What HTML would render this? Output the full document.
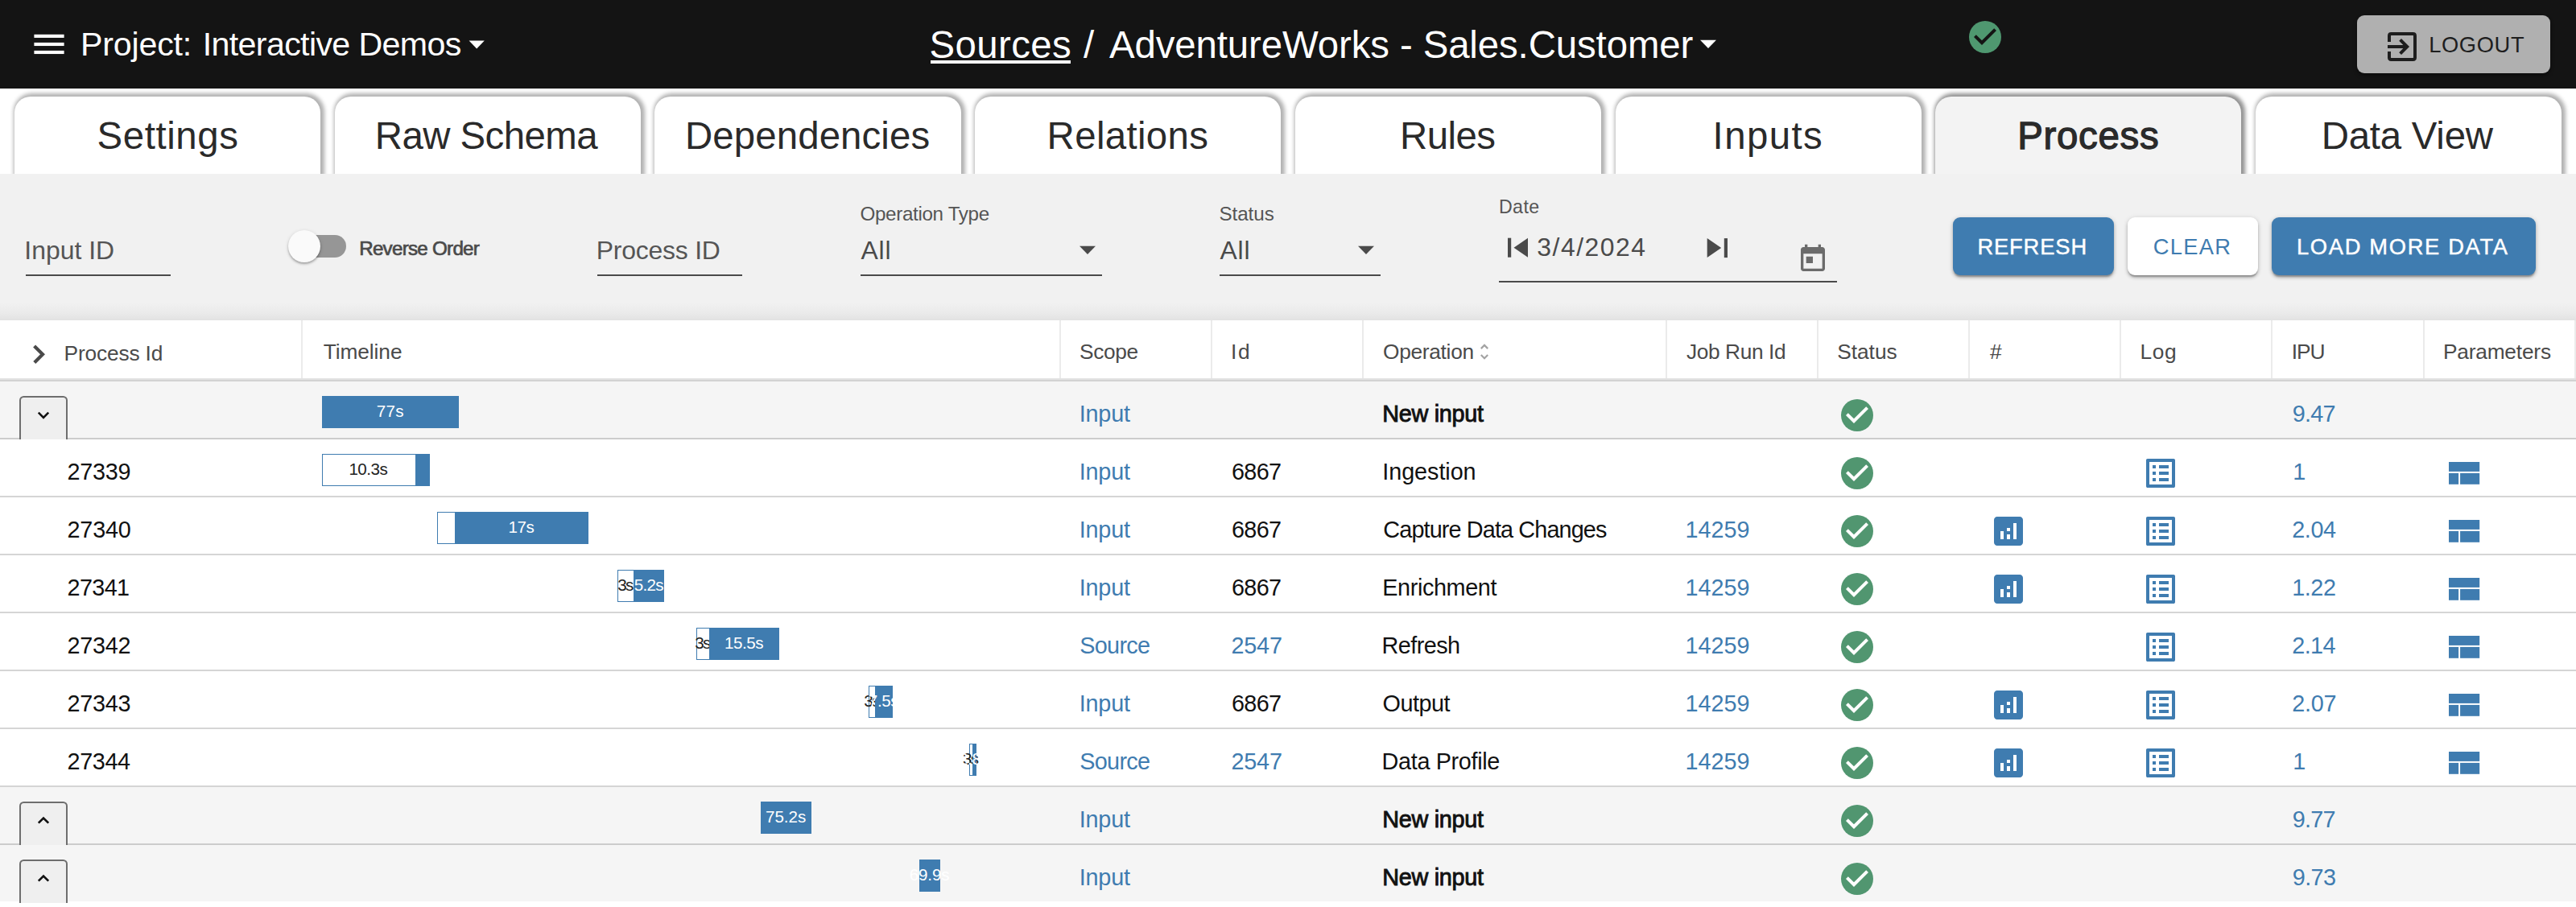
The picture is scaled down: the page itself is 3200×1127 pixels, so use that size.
<!DOCTYPE html><html lang="en"><head><meta charset="utf-8"><title>Process</title><style>html,body{margin:0;padding:0}body{width:3200px;height:1127px;position:relative;overflow:hidden;background:#fff;font-family:"Liberation Sans",sans-serif}.t{position:absolute;white-space:nowrap}</style></head><body>
<header>
<div style="position:absolute;left:0px;top:0px;width:3200px;height:110px;background:#141414;"></div>
<svg style="position:absolute;left:0;top:0" width="700" height="110"><g fill="#fff"><rect x="42.4" y="42.8" width="37.2" height="4.15"/><rect x="42.4" y="52.9" width="37.2" height="4.15"/><rect x="42.4" y="62.9" width="37.2" height="4.15"/><path d="M582.6 50.4h19.2l-9.6 10z"/></g></svg>
<div class="t" style="left:100.10px;top:35.10px;font-size:41.2px;line-height:41.2px;letter-spacing:-0.213px;color:#fff;">Project:</div>
<div class="t" style="left:251.70px;top:35.10px;font-size:41.2px;line-height:41.2px;letter-spacing:-0.645px;color:#fff;">Interactive Demos</div>
<div class="t" style="left:1154.60px;top:31.50px;font-size:47.4px;line-height:47.4px;letter-spacing:0.374px;color:#fff;">Sources</div>
<div style="position:absolute;left:1156px;top:75.3px;width:174px;height:3.6px;background:#fff;"></div>
<div class="t" style="left:1346.00px;top:31.50px;font-size:47.4px;line-height:47.4px;letter-spacing:0.000px;color:#fff;">/</div>
<div class="t" style="left:1378.00px;top:31.50px;font-size:47.4px;line-height:47.4px;letter-spacing:-0.113px;color:#fff;">AdventureWorks - Sales.Customer</div>
<svg style="position:absolute;left:2100px;top:30px" width="48" height="48" viewBox="0 0 48 48"><path d="M12 19.7h20l-10 10.3z" fill="#fff"/></svg>
<svg style="position:absolute;left:2442px;top:22px" width="48" height="48" viewBox="0 0 24 24"><circle cx="12" cy="12" r="10" fill="#4f9870"/><path d="M10 17l-5-5 1.41-1.41L10 14.17l7.59-7.59L19 8z" fill="#141414"/></svg>
<div style="position:absolute;left:2928px;top:19px;width:240px;height:72px;background:#b0b0b0;border-radius:9px;box-shadow:0 3px 5px rgba(0,0,0,.4)"></div>
<svg style="position:absolute;left:2960px;top:34px" width="48" height="48" viewBox="0 0 24 24" fill="none" stroke="#1e1e1e" stroke-width="2" stroke-linejoin="round"><path d="M4 9V5.2Q4 4 5.2 4H18.8Q20 4 20 5.2V18.8Q20 20 18.8 20H5.2Q4 20 4 18.8V15" stroke-linecap="butt"/><path d="M3 12H14.5" stroke-linecap="butt"/><path d="M10.8 7.7L15.1 12L10.8 16.3" stroke-linejoin="miter"/></svg>
<div class="t" style="left:3017.20px;top:41.80px;font-size:27.3px;line-height:27.3px;letter-spacing:0.622px;color:#1e1e1e;">LOGOUT</div>
</header>
<nav>
<div style="position:absolute;left:0;top:110px;width:3200px;height:106px;background:#fff;overflow:hidden"><div style="position:absolute;left:18.0px;top:10px;width:380.3px;height:140px;border-radius:20px 20px 0 0;background:#fff;box-shadow:1.85px -.5px 5.4px 2.65px rgba(0,0,0,.31)"></div><div style="position:absolute;left:415.7px;top:10px;width:380.3px;height:140px;border-radius:20px 20px 0 0;background:#fff;box-shadow:1.85px -.5px 5.4px 2.65px rgba(0,0,0,.31)"></div><div style="position:absolute;left:813.4px;top:10px;width:380.3px;height:140px;border-radius:20px 20px 0 0;background:#fff;box-shadow:1.85px -.5px 5.4px 2.65px rgba(0,0,0,.31)"></div><div style="position:absolute;left:1211.1px;top:10px;width:380.3px;height:140px;border-radius:20px 20px 0 0;background:#fff;box-shadow:1.85px -.5px 5.4px 2.65px rgba(0,0,0,.31)"></div><div style="position:absolute;left:1608.8px;top:10px;width:380.3px;height:140px;border-radius:20px 20px 0 0;background:#fff;box-shadow:1.85px -.5px 5.4px 2.65px rgba(0,0,0,.31)"></div><div style="position:absolute;left:2006.5px;top:10px;width:380.3px;height:140px;border-radius:20px 20px 0 0;background:#fff;box-shadow:1.85px -.5px 5.4px 2.65px rgba(0,0,0,.31)"></div><div style="position:absolute;left:2404.2px;top:10px;width:380.3px;height:140px;border-radius:20px 20px 0 0;background:#f3f3f3;box-shadow:1.85px -.5px 5.4px 2.65px rgba(0,0,0,.43)"></div><div style="position:absolute;left:2801.9px;top:10px;width:380.3px;height:140px;border-radius:20px 20px 0 0;background:#fff;box-shadow:1.85px -.5px 5.4px 2.65px rgba(0,0,0,.31)"></div></div>
<div class="t" style="left:120.50px;top:145.00px;font-size:47.4px;line-height:47.4px;letter-spacing:0.594px;color:#2a2a2a;">Settings</div>
<div class="t" style="left:465.80px;top:145.00px;font-size:47.4px;line-height:47.4px;letter-spacing:-0.552px;color:#2a2a2a;">Raw Schema</div>
<div class="t" style="left:851.05px;top:145.00px;font-size:47.4px;line-height:47.4px;letter-spacing:0.100px;color:#2a2a2a;">Dependencies</div>
<div class="t" style="left:1300.60px;top:145.00px;font-size:47.4px;line-height:47.4px;letter-spacing:0.353px;color:#2a2a2a;">Relations</div>
<div class="t" style="left:1739.00px;top:145.00px;font-size:47.4px;line-height:47.4px;letter-spacing:-0.541px;color:#2a2a2a;">Rules</div>
<div class="t" style="left:2127.60px;top:145.00px;font-size:47.4px;line-height:47.4px;letter-spacing:1.419px;color:#2a2a2a;">Inputs</div>
<div class="t" style="left:2506.15px;top:145.00px;font-size:47.4px;line-height:47.4px;letter-spacing:0.718px;color:#2a2a2a;-webkit-text-stroke:1.3px #2a2a2a;">Process</div>
<div class="t" style="left:2883.75px;top:145.00px;font-size:47.4px;line-height:47.4px;letter-spacing:-0.239px;color:#2a2a2a;">Data View</div>
</nav>
<section class="filters">
<div style="position:absolute;left:0;top:216px;width:3200px;height:182px;background:linear-gradient(#f1f1f1 0,#f1f1f1 88%,#ebebeb 94.5%,#e2e2e2 100%)"></div>
<div class="t" style="left:30.30px;top:296.30px;font-size:31.9px;line-height:31.9px;letter-spacing:0.007px;color:#555;">Input ID</div>
<div style="position:absolute;left:32px;top:341px;width:180px;height:2.4px;background:#4a4a4a;"></div>
<div style="position:absolute;left:362px;top:292px;width:68px;height:28px;background:#969696;border-radius:14px"></div>
<div style="position:absolute;left:358px;top:286px;width:40px;height:40px;background:#fafafa;border-radius:50%;box-shadow:0 2px 2.5px rgba(0,0,0,.26),0 1px 5px rgba(0,0,0,.12)"></div>
<div class="t" style="left:446.20px;top:296.90px;font-size:24.2px;line-height:24.2px;letter-spacing:-0.746px;color:#4a4a4a;-webkit-text-stroke:.7px #4a4a4a;">Reverse Order</div>
<div class="t" style="left:740.70px;top:296.30px;font-size:31.9px;line-height:31.9px;letter-spacing:-0.202px;color:#555;">Process ID</div>
<div style="position:absolute;left:742px;top:341px;width:180px;height:2.4px;background:#4a4a4a;"></div>
<div class="t" style="left:1068.40px;top:253.80px;font-size:24.2px;line-height:24.2px;letter-spacing:-0.317px;color:#555;">Operation Type</div>
<div class="t" style="left:1069.40px;top:296.30px;font-size:31.9px;line-height:31.9px;letter-spacing:0.872px;color:#4a4a4a;">All</div>
<div style="position:absolute;left:1069px;top:341px;width:300px;height:2.4px;background:#4a4a4a;"></div>
<div class="t" style="left:1514.40px;top:253.80px;font-size:24.2px;line-height:24.2px;letter-spacing:-0.035px;color:#555;">Status</div>
<div class="t" style="left:1515.40px;top:296.30px;font-size:31.9px;line-height:31.9px;letter-spacing:0.872px;color:#4a4a4a;">All</div>
<div style="position:absolute;left:1515px;top:341px;width:200px;height:2.4px;background:#4a4a4a;"></div>
<div class="t" style="left:1861.90px;top:245.70px;font-size:23.2px;line-height:23.2px;letter-spacing:0.439px;color:#555;">Date</div>
<div class="t" style="left:1909.30px;top:292.10px;font-size:31.9px;line-height:31.9px;letter-spacing:1.500px;color:#4a4a4a;">3/4/2024</div>
<div style="position:absolute;left:1862px;top:349px;width:420px;height:2.2px;background:#4a4a4a;"></div>
<svg style="position:absolute;left:1300px;top:280px" width="1000" height="70"><g fill="#4a4a4a"><path d="M41 25.7h20l-10 10.3z"/><path d="M387 25.7h20l-10 10.3z"/><rect x="573" y="15.7" width="4.2" height="24"/><path d="M598 15.7v24l-17.5-12z"/><rect x="841.8" y="16.1" width="4.2" height="24"/><path d="M820.7 16.1v24l17.5-12z"/></g></svg>
<svg style="position:absolute;left:2232px;top:302px" width="40" height="40" viewBox="0 0 24 24"><path fill="#6b6b6b" d="M19 3h-1V1h-2v2H8V1H6v2H5c-1.11 0-1.99.9-1.99 2L3 19c0 1.1.89 2 2 2h14c1.1 0 2-.9 2-2V5c0-1.1-.9-2-2-2zm0 16H5V8h14v11zM7 10h5v5H7z"/></svg>
<div style="position:absolute;left:2426px;top:270px;width:200px;height:72px;background:#3f7cb0;border-radius:9px;box-shadow:0 3px 2px -1px rgba(0,0,0,.25),0 3px 4px rgba(0,0,0,.18),0 1px 6px rgba(0,0,0,.14)"></div>
<div class="t" style="left:2456.40px;top:293.00px;font-size:27.3px;line-height:27.3px;letter-spacing:0.880px;color:#fff;-webkit-text-stroke:.45px #fff;">REFRESH</div>
<div style="position:absolute;left:2643px;top:270px;width:162px;height:72px;background:#fff;border-radius:9px;box-shadow:0 3px 2px -1px rgba(0,0,0,.25),0 3px 4px rgba(0,0,0,.18),0 1px 6px rgba(0,0,0,.14)"></div>
<div class="t" style="left:2674.80px;top:293.00px;font-size:27.3px;line-height:27.3px;letter-spacing:1.273px;color:#3f7cb0;">CLEAR</div>
<div style="position:absolute;left:2822px;top:270px;width:328px;height:72px;background:#3f7cb0;border-radius:9px;box-shadow:0 3px 2px -1px rgba(0,0,0,.25),0 3px 4px rgba(0,0,0,.18),0 1px 6px rgba(0,0,0,.14)"></div>
<div class="t" style="left:2853.00px;top:293.00px;font-size:27.3px;line-height:27.3px;letter-spacing:1.682px;color:#fff;-webkit-text-stroke:.45px #fff;">LOAD MORE DATA</div>
</section>
<main>
<div style="position:absolute;left:0px;top:398px;width:3200px;height:72px;background:#fff;"></div>
<div style="position:absolute;left:0px;top:470px;width:3200px;height:2px;background:#e2e2e2;"></div>
<div style="position:absolute;left:0px;top:472px;width:3200px;height:2px;background:#d2d2d2;"></div>
<div style="position:absolute;left:374px;top:398px;width:2px;height:72px;background:#ebebeb;"></div>
<div style="position:absolute;left:1316px;top:398px;width:2px;height:72px;background:#ebebeb;"></div>
<div style="position:absolute;left:1504px;top:398px;width:2px;height:72px;background:#ebebeb;"></div>
<div style="position:absolute;left:1692px;top:398px;width:2px;height:72px;background:#ebebeb;"></div>
<div style="position:absolute;left:2069px;top:398px;width:2px;height:72px;background:#ebebeb;"></div>
<div style="position:absolute;left:2257px;top:398px;width:2px;height:72px;background:#ebebeb;"></div>
<div style="position:absolute;left:2445px;top:398px;width:2px;height:72px;background:#ebebeb;"></div>
<div style="position:absolute;left:2633px;top:398px;width:2px;height:72px;background:#ebebeb;"></div>
<div style="position:absolute;left:2821px;top:398px;width:2px;height:72px;background:#ebebeb;"></div>
<div style="position:absolute;left:3009.5px;top:398px;width:2px;height:72px;background:#ebebeb;"></div>
<div style="position:absolute;left:3197.5px;top:398px;width:2px;height:72px;background:#ebebeb;"></div>
<svg style="position:absolute;left:30px;top:420px" width="40" height="40"><path d="M12.6 9.9L23 20.2L12.8 30.4" fill="none" stroke="#4a4a4a" stroke-width="4.2"/></svg>
<div class="t" style="left:79.50px;top:425.60px;font-size:26.3px;line-height:26.3px;letter-spacing:-0.156px;color:#4a4a4a;">Process Id</div>
<div class="t" style="left:401.70px;top:423.90px;font-size:26.3px;line-height:26.3px;letter-spacing:-0.081px;color:#4a4a4a;">Timeline</div>
<div class="t" style="left:1341.00px;top:423.90px;font-size:26.3px;line-height:26.3px;letter-spacing:-0.385px;color:#4a4a4a;">Scope</div>
<div class="t" style="left:1529.00px;top:423.90px;font-size:26.3px;line-height:26.3px;letter-spacing:1.694px;color:#4a4a4a;">Id</div>
<div class="t" style="left:1718.00px;top:423.90px;font-size:26.3px;line-height:26.3px;letter-spacing:-0.295px;color:#4a4a4a;">Operation</div>
<svg style="position:absolute;left:1833px;top:422px" width="20" height="30"><path d="M6.8 11.1l4.2-4.2 4.2 4.2M6.8 19l4.2 4.2 4.2-4.2" fill="none" stroke="#a3a3a3" stroke-width="2.2"/></svg>
<div class="t" style="left:2095.00px;top:423.90px;font-size:26.3px;line-height:26.3px;letter-spacing:-0.395px;color:#4a4a4a;">Job Run Id</div>
<div class="t" style="left:2282.20px;top:423.90px;font-size:26.3px;line-height:26.3px;letter-spacing:-0.020px;color:#4a4a4a;">Status</div>
<div class="t" style="left:2472.00px;top:423.90px;font-size:26.3px;line-height:26.3px;letter-spacing:0.000px;color:#4a4a4a;">#</div>
<div class="t" style="left:2658.60px;top:423.90px;font-size:26.3px;line-height:26.3px;letter-spacing:0.525px;color:#4a4a4a;">Log</div>
<div class="t" style="left:2846.80px;top:423.90px;font-size:26.3px;line-height:26.3px;letter-spacing:-1.023px;color:#4a4a4a;">IPU</div>
<div class="t" style="left:3034.90px;top:423.90px;font-size:26.3px;line-height:26.3px;letter-spacing:-0.196px;color:#4a4a4a;">Parameters</div>
<div style="position:absolute;left:0px;top:474px;width:3200px;height:70px;background:#f5f5f5;"></div>
<div style="position:absolute;left:0px;top:544px;width:3200px;height:2px;background:#cccccc;"></div>
<div style="position:absolute;left:24px;top:492px;width:60px;height:54px;overflow:hidden"><div style="box-sizing:border-box;width:60px;height:70px;border:2.2px solid #6e6e6e;border-radius:5.5px;background:#efefef"></div></div>
<svg style="position:absolute;left:40px;top:504px" width="28" height="24"><path d="M7.8 8.6L14 14.8L20.2 8.6" fill="none" stroke="#111" stroke-width="2.6"/></svg>
<div class="t" style="left:1340.70px;top:500.00px;font-size:28.8px;line-height:28.8px;letter-spacing:-0.187px;color:#3f7cb0;">Input</div>
<div class="t" style="left:1717.30px;top:500.00px;font-size:28.8px;line-height:28.8px;letter-spacing:-0.294px;color:#111;-webkit-text-stroke:.9px #111;">New input</div>
<svg style="position:absolute;left:2283px;top:492px" width="48" height="48" viewBox="0 0 24 24"><circle cx="12" cy="12" r="10" fill="#519670"/><path d="M10 17l-5-5 1.41-1.41L10 14.17l7.59-7.59L19 8z" fill="#fff"/></svg>
<div class="t" style="left:2847.80px;top:500.00px;font-size:28.8px;line-height:28.8px;letter-spacing:-0.744px;color:#3f7cb0;">9.47</div>
<div style="position:absolute;left:0px;top:546px;width:3200px;height:70px;background:#fff;"></div>
<div style="position:absolute;left:0px;top:616px;width:3200px;height:2px;background:#d5d5d5;"></div>
<div class="t" style="left:83.50px;top:572.00px;font-size:28.8px;line-height:28.8px;letter-spacing:-0.265px;color:#111;">27339</div>
<div class="t" style="left:1340.70px;top:572.00px;font-size:28.8px;line-height:28.8px;letter-spacing:-0.187px;color:#3f7cb0;">Input</div>
<div class="t" style="left:1530.00px;top:572.00px;font-size:28.8px;line-height:28.8px;letter-spacing:-0.682px;color:#111;">6867</div>
<div class="t" style="left:1717.30px;top:572.00px;font-size:28.8px;line-height:28.8px;letter-spacing:-0.070px;color:#111;">Ingestion</div>
<svg style="position:absolute;left:2283px;top:564px" width="48" height="48" viewBox="0 0 24 24"><circle cx="12" cy="12" r="10" fill="#519670"/><path d="M10 17l-5-5 1.41-1.41L10 14.17l7.59-7.59L19 8z" fill="#fff"/></svg>
<svg style="position:absolute;left:2660.0px;top:563.7px" width="48" height="48" viewBox="0 0 24 24"><path fill="#3f7cb0" d="M19 5v14H5V5h14m1.1-2H3.9c-.5 0-.9.4-.9.9v16.2c0 .4.4.9.9.9h16.2c.4 0 .9-.5.9-.9V3.9c0-.5-.5-.9-.9-.9zM11 7h6v2h-6V7zm0 4h6v2h-6v-2zm0 4h6v2h-6zM7 7h2v2H7zm0 4h2v2H7zm0 4h2v2H7z"/></svg>
<div class="t" style="left:2848.30px;top:572.00px;font-size:28.8px;line-height:28.8px;letter-spacing:0.000px;color:#3f7cb0;">1</div>
<svg style="position:absolute;left:3041.9px;top:574.1px" width="40" height="30"><g fill="#3f7cb0"><rect x="0" y="0" width="38.2" height="11.9"/><rect x="0" y="13.9" width="12.1" height="13.9"/><rect x="14.1" y="13.9" width="24.1" height="13.9"/></g></svg>
<div style="position:absolute;left:0px;top:618px;width:3200px;height:70px;background:#fff;"></div>
<div style="position:absolute;left:0px;top:688px;width:3200px;height:2px;background:#d5d5d5;"></div>
<div class="t" style="left:83.50px;top:644.00px;font-size:28.8px;line-height:28.8px;letter-spacing:-0.190px;color:#111;">27340</div>
<div class="t" style="left:1340.70px;top:644.00px;font-size:28.8px;line-height:28.8px;letter-spacing:-0.187px;color:#3f7cb0;">Input</div>
<div class="t" style="left:1530.00px;top:644.00px;font-size:28.8px;line-height:28.8px;letter-spacing:-0.682px;color:#111;">6867</div>
<div class="t" style="left:1718.30px;top:644.00px;font-size:28.8px;line-height:28.8px;letter-spacing:-0.866px;color:#111;">Capture Data Changes</div>
<div class="t" style="left:2093.40px;top:644.00px;font-size:28.8px;line-height:28.8px;letter-spacing:0.010px;color:#3f7cb0;">14259</div>
<svg style="position:absolute;left:2283px;top:636px" width="48" height="48" viewBox="0 0 24 24"><circle cx="12" cy="12" r="10" fill="#519670"/><path d="M10 17l-5-5 1.41-1.41L10 14.17l7.59-7.59L19 8z" fill="#fff"/></svg>
<svg style="position:absolute;left:2471px;top:636px" width="48" height="48" viewBox="0 0 24 24"><path fill="#3f7cb0" d="M19 3H5c-1.1 0-2 .9-2 2v14c0 1.1.9 2 2 2h14c1.1 0 2-.9 2-2V5c0-1.1-.9-2-2-2zM9 17H7v-5h2v5zm4 0h-2v-3h2v3zm0-5h-2v-2h2v2zm4 5h-2V7h2v10z"/></svg>
<svg style="position:absolute;left:2660.0px;top:635.7px" width="48" height="48" viewBox="0 0 24 24"><path fill="#3f7cb0" d="M19 5v14H5V5h14m1.1-2H3.9c-.5 0-.9.4-.9.9v16.2c0 .4.4.9.9.9h16.2c.4 0 .9-.5.9-.9V3.9c0-.5-.5-.9-.9-.9zM11 7h6v2h-6V7zm0 4h6v2h-6v-2zm0 4h6v2h-6zM7 7h2v2H7zm0 4h2v2H7zm0 4h2v2H7z"/></svg>
<div class="t" style="left:2847.30px;top:644.00px;font-size:28.8px;line-height:28.8px;letter-spacing:-0.444px;color:#3f7cb0;">2.04</div>
<svg style="position:absolute;left:3041.9px;top:646.1px" width="40" height="30"><g fill="#3f7cb0"><rect x="0" y="0" width="38.2" height="11.9"/><rect x="0" y="13.9" width="12.1" height="13.9"/><rect x="14.1" y="13.9" width="24.1" height="13.9"/></g></svg>
<div style="position:absolute;left:0px;top:690px;width:3200px;height:70px;background:#fff;"></div>
<div style="position:absolute;left:0px;top:760px;width:3200px;height:2px;background:#d5d5d5;"></div>
<div class="t" style="left:83.50px;top:716.00px;font-size:28.8px;line-height:28.8px;letter-spacing:-0.640px;color:#111;">27341</div>
<div class="t" style="left:1340.70px;top:716.00px;font-size:28.8px;line-height:28.8px;letter-spacing:-0.187px;color:#3f7cb0;">Input</div>
<div class="t" style="left:1530.00px;top:716.00px;font-size:28.8px;line-height:28.8px;letter-spacing:-0.682px;color:#111;">6867</div>
<div class="t" style="left:1717.30px;top:716.00px;font-size:28.8px;line-height:28.8px;letter-spacing:-0.394px;color:#111;">Enrichment</div>
<div class="t" style="left:2093.40px;top:716.00px;font-size:28.8px;line-height:28.8px;letter-spacing:0.010px;color:#3f7cb0;">14259</div>
<svg style="position:absolute;left:2283px;top:708px" width="48" height="48" viewBox="0 0 24 24"><circle cx="12" cy="12" r="10" fill="#519670"/><path d="M10 17l-5-5 1.41-1.41L10 14.17l7.59-7.59L19 8z" fill="#fff"/></svg>
<svg style="position:absolute;left:2471px;top:708px" width="48" height="48" viewBox="0 0 24 24"><path fill="#3f7cb0" d="M19 3H5c-1.1 0-2 .9-2 2v14c0 1.1.9 2 2 2h14c1.1 0 2-.9 2-2V5c0-1.1-.9-2-2-2zM9 17H7v-5h2v5zm4 0h-2v-3h2v3zm0-5h-2v-2h2v2zm4 5h-2V7h2v10z"/></svg>
<svg style="position:absolute;left:2660.0px;top:707.7px" width="48" height="48" viewBox="0 0 24 24"><path fill="#3f7cb0" d="M19 5v14H5V5h14m1.1-2H3.9c-.5 0-.9.4-.9.9v16.2c0 .4.4.9.9.9h16.2c.4 0 .9-.5.9-.9V3.9c0-.5-.5-.9-.9-.9zM11 7h6v2h-6V7zm0 4h6v2h-6v-2zm0 4h6v2h-6zM7 7h2v2H7zm0 4h2v2H7zm0 4h2v2H7z"/></svg>
<div class="t" style="left:2847.30px;top:716.00px;font-size:28.8px;line-height:28.8px;letter-spacing:-0.477px;color:#3f7cb0;">1.22</div>
<svg style="position:absolute;left:3041.9px;top:718.1px" width="40" height="30"><g fill="#3f7cb0"><rect x="0" y="0" width="38.2" height="11.9"/><rect x="0" y="13.9" width="12.1" height="13.9"/><rect x="14.1" y="13.9" width="24.1" height="13.9"/></g></svg>
<div style="position:absolute;left:0px;top:762px;width:3200px;height:70px;background:#fff;"></div>
<div style="position:absolute;left:0px;top:832px;width:3200px;height:2px;background:#d5d5d5;"></div>
<div class="t" style="left:83.50px;top:788.00px;font-size:28.8px;line-height:28.8px;letter-spacing:-0.240px;color:#111;">27342</div>
<div class="t" style="left:1341.30px;top:788.00px;font-size:28.8px;line-height:28.8px;letter-spacing:-0.705px;color:#3f7cb0;">Source</div>
<div class="t" style="left:1529.40px;top:788.00px;font-size:28.8px;line-height:28.8px;letter-spacing:-0.149px;color:#3f7cb0;">2547</div>
<div class="t" style="left:1716.60px;top:788.00px;font-size:28.8px;line-height:28.8px;letter-spacing:-0.569px;color:#111;">Refresh</div>
<div class="t" style="left:2093.40px;top:788.00px;font-size:28.8px;line-height:28.8px;letter-spacing:0.010px;color:#3f7cb0;">14259</div>
<svg style="position:absolute;left:2283px;top:780px" width="48" height="48" viewBox="0 0 24 24"><circle cx="12" cy="12" r="10" fill="#519670"/><path d="M10 17l-5-5 1.41-1.41L10 14.17l7.59-7.59L19 8z" fill="#fff"/></svg>
<svg style="position:absolute;left:2660.0px;top:779.7px" width="48" height="48" viewBox="0 0 24 24"><path fill="#3f7cb0" d="M19 5v14H5V5h14m1.1-2H3.9c-.5 0-.9.4-.9.9v16.2c0 .4.4.9.9.9h16.2c.4 0 .9-.5.9-.9V3.9c0-.5-.5-.9-.9-.9zM11 7h6v2h-6V7zm0 4h6v2h-6v-2zm0 4h6v2h-6zM7 7h2v2H7zm0 4h2v2H7zm0 4h2v2H7z"/></svg>
<div class="t" style="left:2847.30px;top:788.00px;font-size:28.8px;line-height:28.8px;letter-spacing:-0.611px;color:#3f7cb0;">2.14</div>
<svg style="position:absolute;left:3041.9px;top:790.1px" width="40" height="30"><g fill="#3f7cb0"><rect x="0" y="0" width="38.2" height="11.9"/><rect x="0" y="13.9" width="12.1" height="13.9"/><rect x="14.1" y="13.9" width="24.1" height="13.9"/></g></svg>
<div style="position:absolute;left:0px;top:834px;width:3200px;height:70px;background:#fff;"></div>
<div style="position:absolute;left:0px;top:904px;width:3200px;height:2px;background:#d5d5d5;"></div>
<div class="t" style="left:83.50px;top:860.00px;font-size:28.8px;line-height:28.8px;letter-spacing:-0.265px;color:#111;">27343</div>
<div class="t" style="left:1340.70px;top:860.00px;font-size:28.8px;line-height:28.8px;letter-spacing:-0.187px;color:#3f7cb0;">Input</div>
<div class="t" style="left:1530.00px;top:860.00px;font-size:28.8px;line-height:28.8px;letter-spacing:-0.682px;color:#111;">6867</div>
<div class="t" style="left:1717.60px;top:860.00px;font-size:28.8px;line-height:28.8px;letter-spacing:-0.489px;color:#111;">Output</div>
<div class="t" style="left:2093.40px;top:860.00px;font-size:28.8px;line-height:28.8px;letter-spacing:0.010px;color:#3f7cb0;">14259</div>
<svg style="position:absolute;left:2283px;top:852px" width="48" height="48" viewBox="0 0 24 24"><circle cx="12" cy="12" r="10" fill="#519670"/><path d="M10 17l-5-5 1.41-1.41L10 14.17l7.59-7.59L19 8z" fill="#fff"/></svg>
<svg style="position:absolute;left:2471px;top:852px" width="48" height="48" viewBox="0 0 24 24"><path fill="#3f7cb0" d="M19 3H5c-1.1 0-2 .9-2 2v14c0 1.1.9 2 2 2h14c1.1 0 2-.9 2-2V5c0-1.1-.9-2-2-2zM9 17H7v-5h2v5zm4 0h-2v-3h2v3zm0-5h-2v-2h2v2zm4 5h-2V7h2v10z"/></svg>
<svg style="position:absolute;left:2660.0px;top:851.7px" width="48" height="48" viewBox="0 0 24 24"><path fill="#3f7cb0" d="M19 5v14H5V5h14m1.1-2H3.9c-.5 0-.9.4-.9.9v16.2c0 .4.4.9.9.9h16.2c.4 0 .9-.5.9-.9V3.9c0-.5-.5-.9-.9-.9zM11 7h6v2h-6V7zm0 4h6v2h-6v-2zm0 4h6v2h-6zM7 7h2v2H7zm0 4h2v2H7zm0 4h2v2H7z"/></svg>
<div class="t" style="left:2847.30px;top:860.00px;font-size:28.8px;line-height:28.8px;letter-spacing:-0.277px;color:#3f7cb0;">2.07</div>
<svg style="position:absolute;left:3041.9px;top:862.1px" width="40" height="30"><g fill="#3f7cb0"><rect x="0" y="0" width="38.2" height="11.9"/><rect x="0" y="13.9" width="12.1" height="13.9"/><rect x="14.1" y="13.9" width="24.1" height="13.9"/></g></svg>
<div style="position:absolute;left:0px;top:906px;width:3200px;height:70px;background:#fff;"></div>
<div style="position:absolute;left:0px;top:976px;width:3200px;height:2px;background:#d5d5d5;"></div>
<div class="t" style="left:83.50px;top:932.00px;font-size:28.8px;line-height:28.8px;letter-spacing:-0.390px;color:#111;">27344</div>
<div class="t" style="left:1341.30px;top:932.00px;font-size:28.8px;line-height:28.8px;letter-spacing:-0.705px;color:#3f7cb0;">Source</div>
<div class="t" style="left:1529.40px;top:932.00px;font-size:28.8px;line-height:28.8px;letter-spacing:-0.149px;color:#3f7cb0;">2547</div>
<div class="t" style="left:1716.60px;top:932.00px;font-size:28.8px;line-height:28.8px;letter-spacing:-0.340px;color:#111;">Data Profile</div>
<div class="t" style="left:2093.40px;top:932.00px;font-size:28.8px;line-height:28.8px;letter-spacing:0.010px;color:#3f7cb0;">14259</div>
<svg style="position:absolute;left:2283px;top:924px" width="48" height="48" viewBox="0 0 24 24"><circle cx="12" cy="12" r="10" fill="#519670"/><path d="M10 17l-5-5 1.41-1.41L10 14.17l7.59-7.59L19 8z" fill="#fff"/></svg>
<svg style="position:absolute;left:2471px;top:924px" width="48" height="48" viewBox="0 0 24 24"><path fill="#3f7cb0" d="M19 3H5c-1.1 0-2 .9-2 2v14c0 1.1.9 2 2 2h14c1.1 0 2-.9 2-2V5c0-1.1-.9-2-2-2zM9 17H7v-5h2v5zm4 0h-2v-3h2v3zm0-5h-2v-2h2v2zm4 5h-2V7h2v10z"/></svg>
<svg style="position:absolute;left:2660.0px;top:923.7px" width="48" height="48" viewBox="0 0 24 24"><path fill="#3f7cb0" d="M19 5v14H5V5h14m1.1-2H3.9c-.5 0-.9.4-.9.9v16.2c0 .4.4.9.9.9h16.2c.4 0 .9-.5.9-.9V3.9c0-.5-.5-.9-.9-.9zM11 7h6v2h-6V7zm0 4h6v2h-6v-2zm0 4h6v2h-6zM7 7h2v2H7zm0 4h2v2H7zm0 4h2v2H7z"/></svg>
<div class="t" style="left:2848.30px;top:932.00px;font-size:28.8px;line-height:28.8px;letter-spacing:0.000px;color:#3f7cb0;">1</div>
<svg style="position:absolute;left:3041.9px;top:934.1px" width="40" height="30"><g fill="#3f7cb0"><rect x="0" y="0" width="38.2" height="11.9"/><rect x="0" y="13.9" width="12.1" height="13.9"/><rect x="14.1" y="13.9" width="24.1" height="13.9"/></g></svg>
<div style="position:absolute;left:0px;top:978px;width:3200px;height:70px;background:#f5f5f5;"></div>
<div style="position:absolute;left:0px;top:1048px;width:3200px;height:2px;background:#cccccc;"></div>
<div style="position:absolute;left:24px;top:996px;width:60px;height:54px;overflow:hidden"><div style="box-sizing:border-box;width:60px;height:70px;border:2.2px solid #6e6e6e;border-radius:5.5px;background:#efefef"></div></div>
<svg style="position:absolute;left:40px;top:1008px" width="28" height="24"><path d="M7.8 14.7L14 8.5L20.2 14.7" fill="none" stroke="#111" stroke-width="2.6"/></svg>
<div class="t" style="left:1340.70px;top:1004.00px;font-size:28.8px;line-height:28.8px;letter-spacing:-0.187px;color:#3f7cb0;">Input</div>
<div class="t" style="left:1717.30px;top:1004.00px;font-size:28.8px;line-height:28.8px;letter-spacing:-0.294px;color:#111;-webkit-text-stroke:.9px #111;">New input</div>
<svg style="position:absolute;left:2283px;top:996px" width="48" height="48" viewBox="0 0 24 24"><circle cx="12" cy="12" r="10" fill="#519670"/><path d="M10 17l-5-5 1.41-1.41L10 14.17l7.59-7.59L19 8z" fill="#fff"/></svg>
<div class="t" style="left:2847.80px;top:1004.00px;font-size:28.8px;line-height:28.8px;letter-spacing:-0.744px;color:#3f7cb0;">9.77</div>
<div style="position:absolute;left:0px;top:1050px;width:3200px;height:70px;background:#f5f5f5;"></div>
<div style="position:absolute;left:24px;top:1068px;width:60px;height:54px;overflow:hidden"><div style="box-sizing:border-box;width:60px;height:70px;border:2.2px solid #6e6e6e;border-radius:5.5px;background:#efefef"></div></div>
<svg style="position:absolute;left:40px;top:1080px" width="28" height="24"><path d="M7.8 14.7L14 8.5L20.2 14.7" fill="none" stroke="#111" stroke-width="2.6"/></svg>
<div class="t" style="left:1340.70px;top:1076.00px;font-size:28.8px;line-height:28.8px;letter-spacing:-0.187px;color:#3f7cb0;">Input</div>
<div class="t" style="left:1717.30px;top:1076.00px;font-size:28.8px;line-height:28.8px;letter-spacing:-0.294px;color:#111;-webkit-text-stroke:.9px #111;">New input</div>
<svg style="position:absolute;left:2283px;top:1068px" width="48" height="48" viewBox="0 0 24 24"><circle cx="12" cy="12" r="10" fill="#519670"/><path d="M10 17l-5-5 1.41-1.41L10 14.17l7.59-7.59L19 8z" fill="#fff"/></svg>
<div class="t" style="left:2847.80px;top:1076.00px;font-size:28.8px;line-height:28.8px;letter-spacing:-0.611px;color:#3f7cb0;">9.73</div>
<div style="position:absolute;left:400px;top:492px;width:170px;height:40px;background:#3f7cb0;"></div>
<div class="t" style="left:467.80px;top:501.00px;font-size:20.6px;line-height:20.6px;letter-spacing:0.247px;color:#fff;">77s</div>
<div style="position:absolute;left:400px;top:564px;width:117.5px;height:40px;box-sizing:border-box;border:1.5px solid #3f7cb0;background:#fff"></div>
<div class="t" style="left:433.40px;top:573.00px;font-size:20.6px;line-height:20.6px;letter-spacing:-0.470px;color:#222;">10.3s</div>
<div style="position:absolute;left:516px;top:564px;width:18px;height:40px;background:#3f7cb0;"></div>
<div style="position:absolute;left:543px;top:636px;width:23.5px;height:40px;box-sizing:border-box;border:1.5px solid #3f7cb0;background:#fff"></div>
<div style="position:absolute;left:565px;top:636px;width:166px;height:40px;background:#3f7cb0;"></div>
<div class="t" style="left:631.40px;top:645.00px;font-size:20.6px;line-height:20.6px;letter-spacing:-0.353px;color:#fff;">17s</div>
<div style="position:absolute;left:767px;top:708px;width:21.700000000000045px;height:40px;box-sizing:border-box;border:1.5px solid #3f7cb0;background:#fff"></div>
<div class="t" style="left:767.20px;top:717.00px;font-size:20.6px;line-height:20.6px;letter-spacing:-1.653px;color:#222;">3s</div>
<div style="position:absolute;left:787.2px;top:708px;width:37.799999999999955px;height:40px;background:#3f7cb0;"></div>
<div class="t" style="left:787.85px;top:717.00px;font-size:20.6px;line-height:20.6px;letter-spacing:-0.709px;color:#fff;">5.2s</div>
<div style="position:absolute;left:865px;top:780px;width:17.700000000000045px;height:40px;box-sizing:border-box;border:1.5px solid #3f7cb0;background:#fff"></div>
<div class="t" style="left:863.20px;top:789.00px;font-size:20.6px;line-height:20.6px;letter-spacing:-1.653px;color:#222;">3s</div>
<div style="position:absolute;left:881.2px;top:780px;width:86.79999999999995px;height:40px;background:#3f7cb0;"></div>
<div class="t" style="left:899.90px;top:789.00px;font-size:20.6px;line-height:20.6px;letter-spacing:-0.420px;color:#fff;">15.5s</div>
<div style="position:absolute;left:1079px;top:852px;width:9.700000000000045px;height:40px;box-sizing:border-box;border:1.5px solid #3f7cb0;background:#fff"></div>
<div class="t" style="left:1073.20px;top:861.00px;font-size:20.6px;line-height:20.6px;letter-spacing:-1.653px;color:#222;">3s</div>
<div style="position:absolute;left:1087.2px;top:852px;width:21.799999999999955px;height:40px;background:#3f7cb0;"></div>
<div class="t" style="left:1078.85px;top:861.00px;font-size:20.6px;line-height:20.6px;letter-spacing:-0.376px;color:#fff;">7.5s</div>
<div style="position:absolute;left:1204px;top:924px;width:5.099999999999909px;height:40px;box-sizing:border-box;border:1.5px solid #3f7cb0;background:#fff"></div>
<div class="t" style="left:1195.90px;top:933.00px;font-size:20.6px;line-height:20.6px;letter-spacing:-1.653px;color:#222;">3s</div>
<div style="position:absolute;left:1207.6px;top:924px;width:5.400000000000091px;height:40px;background:#3f7cb0;"></div>
<div class="t" style="left:1191.05px;top:933.00px;font-size:20.6px;line-height:20.6px;letter-spacing:-0.376px;color:#fff;">2.8s</div>
<div style="position:absolute;left:945px;top:996px;width:63px;height:40px;background:#3f7cb0;"></div>
<div class="t" style="left:951.00px;top:1005.00px;font-size:20.6px;line-height:20.6px;letter-spacing:-0.020px;color:#fff;">75.2s</div>
<div style="position:absolute;left:1142px;top:1068px;width:26px;height:40px;background:#3f7cb0;"></div>
<div class="t" style="left:1129.85px;top:1077.00px;font-size:20.6px;line-height:20.6px;letter-spacing:-0.195px;color:#fff;">69.9s</div>
</main>
</body></html>
